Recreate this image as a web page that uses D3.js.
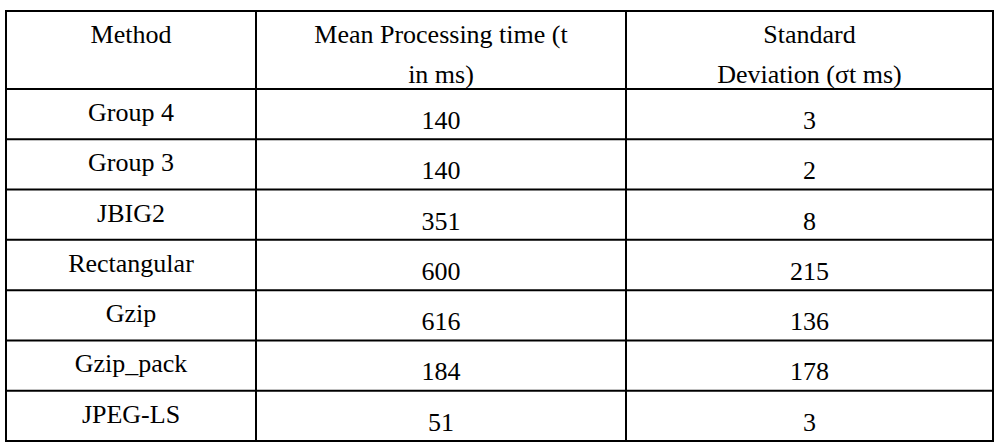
<!DOCTYPE html>
<html><head><meta charset="utf-8">
<script src="https://cdn.jsdelivr.net/npm/d3@7"></script>
<style>body{margin:0;background:#fff}</style>
</head><body><div id="chart"></div>
<script>
const methods = ["Group 4", "Group 3", "JBIG2", "Rectangular", "Gzip", "Gzip_pack", "JPEG-LS"]
const meanTime = [140, 140, 351, 600, 616, 184, 51]
const stdDev = [3, 2, 8, 215, 136, 178, 3]
const headers = [["Method"], ["Mean Processing time  (t", "in ms)"], ["Standard", "Deviation (σt ms)"]]

const svg = d3.select("#chart").append("svg").attr("width", 1003).attr("height", 448)
  .style("font-family", "'Liberation Serif', 'Times New Roman', serif")

const colEdges = [6, 256, 626, 993]
const tableTop = 11, headBottom = 89, tableBottom = 441
const rowH = (tableBottom - headBottom) / methods.length
const y = i => headBottom + i * rowH

// grid
const g = svg.append("g").attr("stroke", "#000").attr("stroke-width", 2)
colEdges.forEach(x => g.append("line").attr("x1", x).attr("x2", x).attr("y1", tableTop).attr("y2", tableBottom))
const hLines = [tableTop, headBottom].concat(methods.map((d, i) => y(i + 1)))
hLines.forEach(v => g.append("line").attr("x1", colEdges[0] - 1).attr("x2", colEdges[3] + 1).attr("y1", v).attr("y2", v))

const cx = c => (colEdges[c] + colEdges[c + 1]) / 2

headers.forEach((lines, c) => {
  lines.forEach((t, k) => {
    svg.append("text").attr("x", cx(c)).attr("y", 43 + k * 40)
      .attr("text-anchor", "middle").attr("font-size", 26).text(t)
  })
})

methods.forEach((m, i) => {
  const cols = [m, meanTime[i], stdDev[i]]
  cols.forEach((v, c) => {
    svg.append("text").attr("x", cx(c)).attr("y", y(i) + (c === 0 ? 32 : 40))
      .attr("text-anchor", "middle").attr("font-size", 26).text(v)
  })
})
</script></body></html>
